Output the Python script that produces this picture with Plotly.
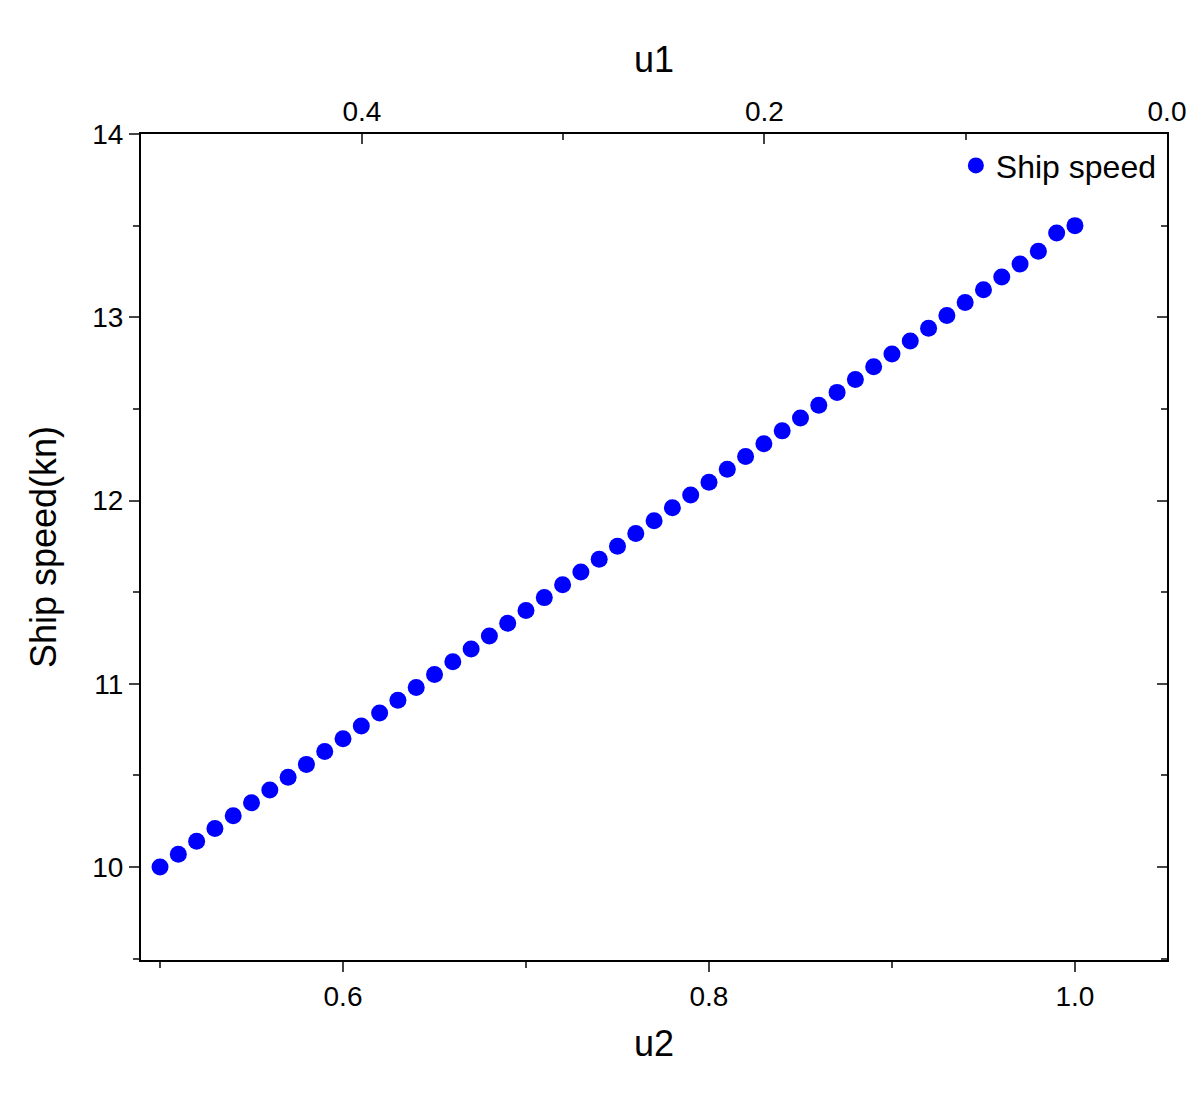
import plotly.graph_objects as go

u2 = [round(0.5 + 0.01*i, 2) for i in range(51)]
speed = [10.00, 10.07, 10.14, 10.21, 10.28, 10.35, 10.42, 10.49, 10.56, 10.63,
         10.70, 10.77, 10.84, 10.91, 10.98, 11.05, 11.12, 11.19, 11.26, 11.33,
         11.40, 11.47, 11.54, 11.61, 11.68, 11.75, 11.82, 11.89, 11.96, 12.03,
         12.10, 12.17, 12.24, 12.31, 12.38, 12.45, 12.52, 12.59, 12.66, 12.73,
         12.80, 12.87, 12.94, 13.01, 13.08, 13.15, 13.22, 13.29, 13.36, 13.46,
         13.50]
u1_ticks = [0.4, 0.2, 0.0]

fig = go.Figure()
fig.add_trace(go.Scatter(x=u2, y=speed, mode="markers", name="Ship speed",
                         marker=dict(color="#0000FF", size=17)))
fig.add_trace(go.Scatter(x=[0.5, 0.0], y=[10, 10], xaxis="x2", yaxis="y2",
                         mode="markers", marker=dict(opacity=0), showlegend=False, hoverinfo="skip"))

axfont = dict(family="Arial", size=28, color="black")
tfont = dict(family="Arial", size=36, color="black")
fig.update_layout(
    width=1202, height=1104, plot_bgcolor="white", paper_bgcolor="white",
    margin=dict(l=133, r=43, t=126, b=152),
    font=dict(family="Arial", color="black"),
    xaxis=dict(range=[0.4896, 1.0503], tickvals=[0.6, 0.8, 1.0], ticktext=["0.6", "0.8", "1.0"],
               ticks="outside", ticklen=10, tickwidth=2, showline=True, linewidth=2, linecolor="black",
               showgrid=False, zeroline=False, tickfont=axfont,
               minor=dict(tickvals=[0.5, 0.7, 0.9], ticks="outside", ticklen=6, tickwidth=2),
               title=dict(text="u2", font=tfont, standoff=20)),
    yaxis=dict(range=[9.4925, 14], tickvals=[10, 11, 12, 13, 14], ticks="outside", ticklen=10, tickwidth=2,
               showline=True, linewidth=2, linecolor="black", showgrid=False, zeroline=False, tickfont=axfont,
               minor=dict(tickvals=[9.5, 10.5, 11.5, 12.5, 13.5], ticks="outside", ticklen=6, tickwidth=2),
               title=dict(text="Ship speed(kn)", font=tfont, standoff=25)),
    xaxis2=dict(overlaying="x", side="top", range=[0.5098, 0.0], tickvals=u1_ticks,
                ticktext=["0.4", "0.2", "0.0"], ticks="inside", ticklen=10, tickwidth=2,
                showline=True, linewidth=2, linecolor="black", showgrid=False, zeroline=False, tickfont=axfont,
                minor=dict(tickvals=[0.3, 0.1], ticks="inside", ticklen=6, tickwidth=2),
                title=dict(text="u1", font=tfont, standoff=12)),
    yaxis2=dict(overlaying="y", side="right", range=[9.4925, 14], tickvals=[10, 11, 12, 13, 14],
                showticklabels=False, ticks="inside", ticklen=10, tickwidth=2,
                showline=True, linewidth=2, linecolor="black", showgrid=False, zeroline=False,
                minor=dict(tickvals=[9.5, 10.5, 11.5, 12.5, 13.5], ticks="inside", ticklen=6, tickwidth=2)),
    legend=dict(x=0.995, y=0.995, xanchor="right", yanchor="top", bgcolor="rgba(0,0,0,0)",
                font=dict(family="Arial", size=32)),
)
fig.write_html("out.html")
